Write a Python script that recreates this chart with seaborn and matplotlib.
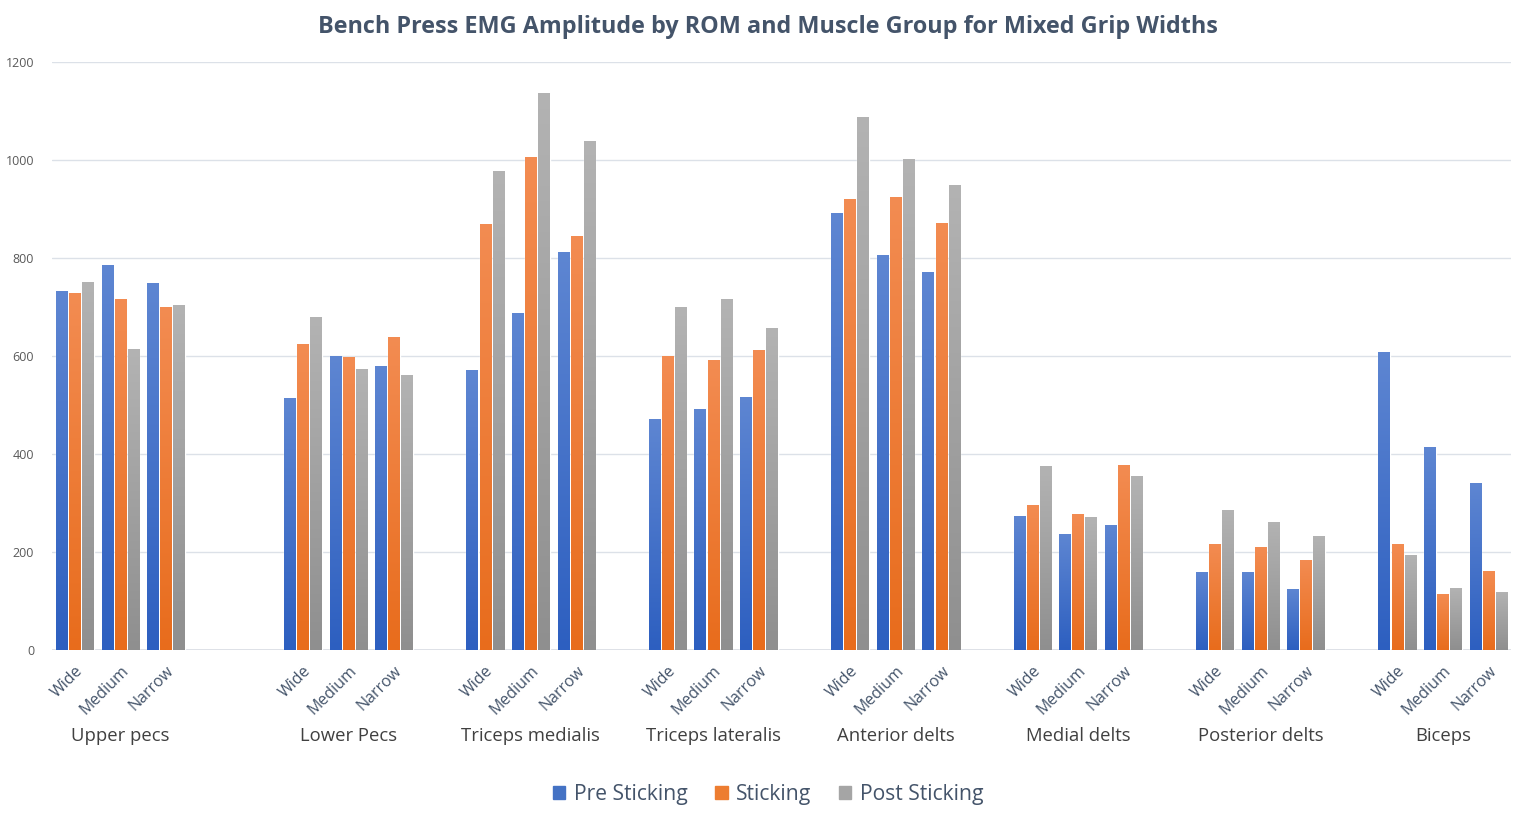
import numpy as np
import pandas as pd
import matplotlib
matplotlib.use("Agg")
import matplotlib.pyplot as plt
from matplotlib.colors import LinearSegmentedColormap
import seaborn as sns

# ------------------- Data -------------------
muscles = ["Upper pecs", "Lower Pecs", "Triceps medialis", "Triceps lateralis",
           "Anterior delts", "Medial delts", "Posterior delts", "Biceps"]
grips = ["Wide", "Medium", "Narrow"]
phases = ["Pre Sticking", "Sticking", "Post Sticking"]

# one value per (muscle, grip), muscle-major order
pre_sticking = [732, 786, 750, 514, 601, 580, 571, 689, 812, 472, 492, 516,
                892, 807, 771, 275, 237, 256, 161, 161, 125, 608, 414, 341]
sticking = [728, 717, 700, 624, 598, 639, 870, 1006, 846, 601, 592, 612,
            921, 924, 872, 297, 278, 378, 218, 212, 185, 218, 116, 163]
post_sticking = [752, 614, 705, 679, 574, 562, 977, 1136, 1039, 701, 716, 657,
                 1088, 1003, 949, 377, 273, 356, 286, 263, 233, 195, 127, 119]

# empty category slots after each muscle group (as in the Excel original)
blank_slots = [2, 1, 1, 1, 1, 1, 1, 0]

colors = ["#4472C4", "#ED7D31", "#A5A5A5"]
# excel-like gradient fill: (top, bottom)
gradients = [("#5E86D2", "#2D5FC0"), ("#F38C52", "#E86C1C"), ("#B3B3B3", "#8F8F8F")]
text_color = "#44546A"

# ------------------- Build table -------------------
rows = []
for phase, vals in zip(phases, [pre_sticking, sticking, post_sticking]):
    for i, m in enumerate(muscles):
        for j, g in enumerate(grips):
            rows.append({"slot": f"{m}|{g}", "phase": phase, "value": vals[i * 3 + j]})
df = pd.DataFrame(rows)

order = []
group_centers = []
for i, m in enumerate(muscles):
    group_centers.append(len(order) + 1)
    order += [f"{m}|{g}" for g in grips]
    order += [f"blank{i}_{k}" for k in range(blank_slots[i])]

# ------------------- Plot -------------------
sns.set_theme(style="white")
plt.rcParams["font.family"] = ["Open Sans", "DejaVu Sans"]

fig = plt.figure(figsize=(15.36, 8.23), dpi=100)
ax = fig.add_axes([0.0339, 0.2096, 0.9500, 0.7151])

sns.barplot(data=df, x="slot", y="value", hue="phase", order=order,
            hue_order=phases, palette=colors, width=0.86, gap=0.12,
            errorbar=None, saturation=1, ax=ax, legend=True)

ax.set_ylim(0, 1200)
ax.set_xlim(-0.5, len(order) - 0.5)

# gradient fill inside each bar
grad = np.linspace(1, 0, 256).reshape(-1, 1)
for cont, (top, bottom) in zip(ax.containers, gradients):
    cmap = LinearSegmentedColormap.from_list("g", [bottom, top])
    for bar in cont:
        h = bar.get_height()
        if not np.isfinite(h) or h <= 0:
            continue
        x0 = bar.get_x()
        im = ax.imshow(grad, cmap=cmap, aspect="auto", origin="upper",
                       extent=(x0, x0 + bar.get_width(), 0, h), zorder=bar.get_zorder() + 0.1)
        im.set_clip_path(bar)
ax.set_aspect("auto")
ax.set_ylim(0, 1200)
ax.set_xlim(-0.5, len(order) - 0.5)

ax.set_yticks(np.arange(0, 1201, 200))
ax.yaxis.grid(True, color="#DCE1E8", linewidth=1.0)
ax.set_axisbelow(True)
for s in ax.spines.values():
    s.set_visible(False)
ax.axhline(0, color="#D9DDE3", linewidth=1.2, zorder=0)

ax.set_xlabel("")
ax.set_ylabel("")
ax.tick_params(axis="y", length=0, pad=13, labelsize=9, labelcolor="#595959")
ax.tick_params(axis="x", length=0, pad=9)

ax.set_xticks(range(len(order)))
tick_labels = [s.split("|")[1] if "|" in s else "" for s in order]
ax.set_xticklabels(tick_labels, rotation=45, ha="right", va="top",
                   rotation_mode="anchor", fontsize=11.5, color=text_color)

for c, m in zip(group_centers, muscles):
    ax.text(c, -0.145, m, transform=ax.get_xaxis_transform(), ha="center",
            va="center", fontsize=13.3, color="#404040")

fig.suptitle("Bench Press EMG Amplitude by ROM and Muscle Group for Mixed Grip Widths",
             x=0.5, y=0.967, va="center", fontsize=16.8, fontweight="bold",
             color=text_color)

ax.legend_.remove()
handles = [plt.Rectangle((0, 0), 1, 1, color=c) for c in colors]
fig.legend(handles, phases, loc="center", bbox_to_anchor=(0.5, 0.035), ncol=3,
           frameon=False, fontsize=15.2, handlelength=0.6, handleheight=0.6,
           handletextpad=0.4, columnspacing=1.3, labelcolor=text_color)

fig.savefig("out.png", dpi=100)
